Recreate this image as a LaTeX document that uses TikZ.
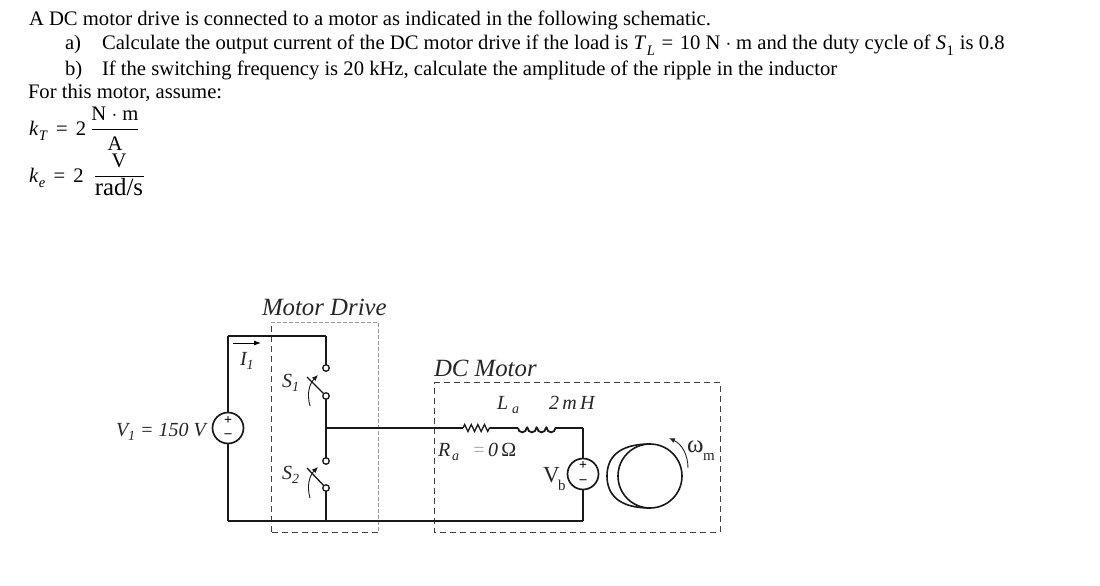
\documentclass[tikz,border=0pt]{standalone}
\usepackage{fontspec}
\setmainfont{Liberation Serif}
\usetikzlibrary{arrows.meta,decorations.pathmorphing}
\newcommand{\vsub}[2]{\textit{#1}\kern.5pt\raisebox{-.28em}{\fontsize{14.5}{15}\selectfont\textit{#2}}}
\newcommand{\lsub}[2]{\textit{#1}\raisebox{-.22em}{\fontsize{14}{15}\selectfont\textit{#2}}}
\tikzset{
 every node/.style={inner sep=0pt,outer sep=0pt},
 txt/.style={anchor=base west,font=\fontsize{20.65}{24}\selectfont},
 eq/.style={anchor=base,font=\fontsize{20.65}{24}\selectfont},
 lab/.style={anchor=base west,font=\fontsize{20}{22}\selectfont\itshape,text=black!85},
 biglab/.style={anchor=base west,font=\fontsize{24.8}{26}\selectfont\itshape,text=black!85},
 sign/.style={font=\fontsize{14}{14}\selectfont\bfseries},
 wire/.style={draw=black!90,line width=1.9pt},
 thinwire/.style={draw=black!90,line width=1.3pt},
 srcc/.style={circle,draw=black!90,line width=1.7pt,minimum size=31pt,fill=white},
 term/.style={circle,draw=black!90,line width=1.3pt,minimum size=6.5pt,fill=white},
 boxb/.style={draw=black!75,line width=.9pt,dash pattern=on 6pt off 4pt},
 boxg/.style={draw=black!40,line width=.8pt,dash pattern=on 4pt off 2pt},
 frac/.style={draw=black,line width=.8pt},
}
\begin{document}
\begin{tikzpicture}[x=1pt,y=-1pt]
\useasboundingbox[fill=white] (0,0) rectangle (1100,586);
% problem text
\node[txt] (t1) at (29,26) {A DC motor drive is connected to a motor as indicated in the following schematic.};
\node[txt] (t2a) at (65,50) {a)};
\node[txt] (t2) at (102,50) {Calculate the output current of the DC motor drive if the load is \vsub{T}{L}\kern1.5pt\ =\kern1.5pt\ 10 N\,\kern1.5pt$\cdot$\kern1.5pt\,m and the duty cycle of \vsub{S}{\upshape 1}\kern1pt\ is 0.8};
\node[txt] (t3a) at (65,75) {b)};
\node[txt] (t3) at (102,75) {If the switching frequency is 20 kHz, calculate the amplitude of the ripple in the inductor};
\node[txt] (t4) at (28,98) {For this motor, assume:};
\node[txt] (kt) at (29,135) {\vsub{k}{T}\kern3pt\ =\kern3pt\ 2};
\node[eq] (kt1) at (115,120) {N $\cdot$ m};
\coordinate (kta) at (92,129); \coordinate (ktb) at (138,129);
\draw[frac] (kta) -- (ktb);
\node[eq] (kt2) at (115,150) {A};
\node[txt] (ke) at (29,182) {\vsub{k}{e}\kern3pt\ =\kern3pt\ 2};
\node[eq] (ke1) at (119,167) {V};
\coordinate (kea) at (95,176); \coordinate (keb) at (144,176);
\draw[frac] (kea) -- (keb);
\node[eq,font=\fontsize{24.8}{26}\selectfont] (ke2) at (119,195) {rad/s};
% boxes
\coordinate (db1) at (271,322); \coordinate (db2) at (378,322);
\coordinate (db3) at (378,532); \coordinate (db4) at (271,532);
\draw[boxb] (db4) -- (db1);
\draw[boxg] (db1) -- (db2) -- (db3);
\draw[boxb] (db3) -- (db4);
\coordinate (mb1) at (434,382); \coordinate (mb2) at (720,382);
\coordinate (mb3) at (720,532); \coordinate (mb4) at (434,532);
\draw[boxb] (mb1) -- (mb2) -- (mb3) -- (mb4) -- cycle;
% circuit nodes
\coordinate (tl) at (228,336); \coordinate (tr) at (326,336);
\coordinate (bl) at (228,521); \coordinate (br) at (583,521);
\coordinate (sb) at (326,521); \coordinate (mid) at (326,428);
\coordinate (r1) at (463,428); \coordinate (r2) at (490,428);
\coordinate (l1) at (518,428); \coordinate (l2) at (555,428);
\coordinate (tr2) at (583,428);
\draw[wire] (tl) -- (tr);
\draw[wire] (bl) -- (br);
\draw[wire] (mid) -- (r1);
\draw[thinwire,decorate,decoration={zigzag,segment length=6.6pt,amplitude=3.5pt}] (r1) -- (r2);
\draw[wire] (r2) -- (l1);
\draw[thinwire,line width=1.8pt] (l1) arc[start angle=180,end angle=0,radius=4.3] arc[start angle=180,end angle=360,radius=.5]
  arc[start angle=180,end angle=0,radius=4.3] arc[start angle=180,end angle=360,radius=.5]
  arc[start angle=180,end angle=0,radius=4.3] arc[start angle=180,end angle=360,radius=.5]
  arc[start angle=180,end angle=0,radius=4.3];
\draw[wire] (l2) -- (tr2);
% sources
\node[srcc] (v1) at (228,428) {};
\draw[wire] (tl) -- (v1); \draw[wire] (v1) -- (bl);
\node[sign] (v1p) at (228,420.5) {+};
\node[sign] (v1m) at (228,436) {–};
\node[srcc] (vb) at (583,474) {};
\draw[wire] (tr2) -- (vb); \draw[wire] (vb) -- (br);
\node[sign] (vbp) at (583,466) {+};
\node[sign] (vbm) at (583,481.5) {–};
% switches
\node[term] (s1t) at (326,368) {};
\node[term] (s1b) at (326,396) {};
\node[term] (s2t) at (326,461) {};
\node[term] (s2b) at (326,488) {};
\draw[wire] (tr) -- (s1t);
\draw[wire] (s1b) -- (s2t);
\draw[wire] (s2b) -- (sb);
\coordinate (s1p) at (307,377); \coordinate (s2p) at (307,468);
\draw[thinwire] (s1p) -- (s1b);
\draw[thinwire] (s2p) -- (s2b);
\coordinate (a1s) at (310,406); \coordinate (a1e) at (318,375);
\coordinate (a2s) at (310,498); \coordinate (a2e) at (318,467);
\draw[thinwire,line width=.9pt,-{Latex[length=6pt,width=5pt]}] (a1s) to[bend left=30] (a1e);
\draw[thinwire,line width=.9pt,-{Latex[length=6pt,width=5pt]}] (a2s) to[bend left=30] (a2e);
% I1 arrow
\coordinate (ia) at (233,343); \coordinate (ib) at (261,343);
\draw[line width=.9pt,-{Latex[length=7pt,width=5pt]}] (ia) -- (ib);
% motor
\node[circle,draw=black!90,line width=1.6pt,minimum size=64pt] (rot) at (650,476) {};
\draw[wire,line width=1.6pt] (rot.north) .. controls (618,444) and (607,458) .. (607,476) .. controls (607,494) and (618,508) .. (rot.south);
\coordinate (wa) at (688,468); \coordinate (wb) at (669,438);
\draw[line width=.9pt,black!85,-{Latex[length=6pt,width=5pt]}] (wa) to[bend right=32] (wb);
% labels
\node[biglab] (md) at (262,315) {Motor Drive};
\node[biglab] (dc) at (434,376) {DC Motor};
\node[lab] (i1) at (240,365) {\lsub{I}{1}};
\node[lab] (v1l) at (116,436) {\lsub{V}{1} = 150 V};
\node[lab] (s1l) at (282,387) {\lsub{S}{1}};
\node[lab] (s2l) at (282,479) {\lsub{S}{2}};
\node[lab] (la) at (497,409) {L\kern4pt\raisebox{-.2em}{\fontsize{14}{15}\selectfont\textit{a}}};
\node[lab] (lv) at (549,409) {2\,m\,H};
\node[lab] (ra) at (438,456) {R\kern2pt\raisebox{-.2em}{\fontsize{14}{15}\selectfont\textit{a}}};
\node[lab,text=black!35] (req) at (472,456) {=};
\node[lab] (rv) at (488,456) {0\,\upshape Ω};
\node[anchor=base west,font=\fontsize{23}{24}\selectfont,text=black!85] (vbl) at (543,482) {V};
\node[anchor=base west,font=\fontsize{15}{16}\selectfont,text=black!85] (vbs) at (558,490) {b};
\node[anchor=base west,font=\fontsize{25}{26}\selectfont,text=black!85] (wm) at (687,452) {ω};
\node[anchor=base west,font=\fontsize{15}{16}\selectfont,text=black!85] (wm2) at (703,460) {m};
\end{tikzpicture}
\end{document}
